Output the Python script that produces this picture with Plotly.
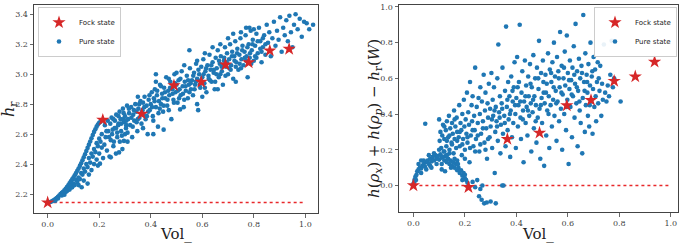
import plotly.graph_objects as go

# ---------------- data ----------------
fock_vol = [0.0, 0.214, 0.365, 0.49, 0.596, 0.69, 0.78, 0.862, 0.937]
fock_hr = [2.143, 2.695, 2.735, 2.925, 2.948, 3.063, 3.078, 3.157, 3.168]
fock_gap = [0.0, -0.01, 0.26, 0.295, 0.448, 0.478, 0.585, 0.61, 0.692]
baseline_hr = 2.143
baseline_gap = 0.0
baseline_vol = [0.0, 1.0]

x_ticks = [0.0, 0.2, 0.4, 0.6, 0.8, 1.0]
left_y_ticks = [2.2, 2.4, 2.6, 2.8, 3.0, 3.2, 3.4]
right_y_ticks = [0.0, 0.2, 0.4, 0.6, 0.8, 1.0]

# pure states, left panel (Vol_, h_r)
left_arm = [
    (0.005, 2.145), (0.01, 2.147), (0.015, 2.15), (0.02, 2.155), (0.025, 2.16), (0.03, 2.166),
    (0.035, 2.173), (0.04, 2.181), (0.045, 2.19), (0.05, 2.2), (0.055, 2.208), (0.06, 2.216),
    (0.065, 2.225), (0.07, 2.235), (0.075, 2.247), (0.08, 2.259), (0.085, 2.272), (0.09, 2.285),
    (0.095, 2.298), (0.1, 2.31), (0.105, 2.325), (0.11, 2.34), (0.115, 2.355), (0.12, 2.37),
    (0.125, 2.388), (0.13, 2.405), (0.135, 2.425), (0.14, 2.445), (0.145, 2.466), (0.15, 2.487),
    (0.155, 2.508), (0.16, 2.53), (0.165, 2.551), (0.17, 2.572), (0.175, 2.594), (0.18, 2.615),
    (0.185, 2.633), (0.19, 2.65), (0.195, 2.664), (0.2, 2.676), (0.205, 2.683),
    (0.03, 2.155), (0.04, 2.17), (0.055, 2.19), (0.06, 2.205), (0.065, 2.195), (0.07, 2.215),
    (0.075, 2.22), (0.08, 2.235), (0.085, 2.23), (0.09, 2.26), (0.095, 2.245), (0.1, 2.27),
    (0.105, 2.26), (0.11, 2.295), (0.115, 2.28), (0.12, 2.31), (0.125, 2.3), (0.13, 2.34),
    (0.135, 2.33), (0.14, 2.37), (0.145, 2.35), (0.15, 2.4), (0.155, 2.38), (0.16, 2.44),
    (0.165, 2.41), (0.17, 2.47), (0.175, 2.45), (0.18, 2.5), (0.185, 2.48), (0.19, 2.54),
    (0.195, 2.52), (0.2, 2.57), (0.205, 2.55), (0.21, 2.6),
    (0.12, 2.26), (0.132, 2.246), (0.14, 2.29), (0.155, 2.27), (0.16, 2.33), (0.17, 2.36),
    (0.18, 2.4), (0.19, 2.43), (0.195, 2.39), (0.2, 2.47), (0.203, 2.403), (0.21, 2.51),
    (0.215, 2.44), (0.22, 2.53), (0.225, 2.58), (0.23, 2.49), (0.235, 2.62), (0.24, 2.45),
    (0.245, 2.56), (0.25, 2.6), (0.255, 2.52), (0.26, 2.64), (0.265, 2.47), (0.27, 2.58),
    (0.275, 2.67), (0.28, 2.55), (0.285, 2.62), (0.29, 2.5), (0.295, 2.7), (0.3, 2.6),
    (0.305, 2.66), (0.31, 2.55), (0.277, 2.478), (0.245, 2.445), (0.296, 2.555),
]
left_band = [
    (0.222, 2.66), (0.228, 2.62), (0.233, 2.69), (0.238, 2.58), (0.243, 2.67), (0.248, 2.71),
    (0.252, 2.63), (0.257, 2.55), (0.261, 2.69), (0.266, 2.73), (0.27, 2.61), (0.274, 2.66),
    (0.279, 2.75), (0.283, 2.7), (0.288, 2.59), (0.292, 2.77), (0.296, 2.68), (0.3, 2.72),
    (0.304, 2.64), (0.308, 2.79), (0.312, 2.7), (0.316, 2.74), (0.32, 2.66), (0.324, 2.78),
    (0.328, 2.58), (0.332, 2.73), (0.336, 2.69), (0.34, 2.8), (0.344, 2.75), (0.348, 2.62),
    (0.352, 2.77), (0.356, 2.71), (0.36, 2.82), (0.364, 2.67), (0.368, 2.76), (0.372, 2.73),
    (0.376, 2.85), (0.38, 2.7), (0.384, 2.79), (0.388, 2.6), (0.392, 2.83), (0.396, 2.76),
    (0.4, 2.8), (0.404, 2.88), (0.408, 2.72), (0.412, 2.84), (0.416, 2.9), (0.42, 2.78),
    (0.424, 2.86), (0.428, 2.65), (0.432, 2.82), (0.436, 2.93), (0.44, 2.8), (0.444, 2.87),
    (0.448, 2.75), (0.452, 2.91), (0.456, 2.84), (0.46, 2.98), (0.464, 2.79), (0.468, 2.89),
    (0.472, 2.86), (0.476, 2.95), (0.48, 2.7), (0.484, 2.9), (0.488, 2.83), (0.492, 3.0),
    (0.496, 2.88), (0.5, 2.93), (0.504, 2.81), (0.508, 2.96), (0.512, 2.9), (0.516, 2.86),
    (0.52, 3.02), (0.524, 2.92), (0.528, 2.78), (0.532, 2.95), (0.536, 2.89), (0.54, 2.99),
    (0.544, 2.84), (0.548, 2.93), (0.552, 3.04), (0.556, 2.9),
    (0.56, 2.96), (0.564, 2.86), (0.568, 3.01), (0.572, 2.93), (0.576, 3.07), (0.58, 2.97),
    (0.584, 2.76), (0.588, 3.0), (0.592, 2.91), (0.596, 3.05), (0.6, 2.98), (0.604, 3.1),
    (0.608, 2.94), (0.612, 3.02), (0.616, 2.88), (0.62, 3.06), (0.624, 2.99), (0.628, 3.13),
    (0.632, 3.03), (0.636, 2.95), (0.64, 3.08), (0.644, 3.01), (0.648, 2.9), (0.652, 3.11),
    (0.656, 3.04), (0.66, 3.16), (0.664, 2.98), (0.668, 3.07), (0.672, 3.12), (0.676, 3.02),
    (0.68, 2.93), (0.684, 3.09), (0.688, 3.18), (0.692, 3.05), (0.696, 3.14), (0.7, 3.0),
    (0.704, 3.1), (0.708, 3.2), (0.712, 3.06), (0.716, 3.15), (0.72, 2.97), (0.724, 3.12),
    (0.728, 3.22), (0.732, 3.08), (0.736, 3.17), (0.74, 3.03), (0.744, 3.13), (0.748, 3.24),
    (0.752, 3.1), (0.756, 3.19), (0.76, 3.06), (0.764, 3.15), (0.768, 3.26), (0.772, 3.12),
    (0.776, 2.98), (0.78, 3.2), (0.784, 3.11), (0.788, 3.29), (0.792, 3.16), (0.796, 3.23),
    (0.8, 3.09), (0.805, 3.19), (0.81, 3.27), (0.815, 3.14), (0.82, 3.31), (0.825, 3.22),
    (0.83, 3.08), (0.835, 3.18), (0.84, 3.26), (0.845, 3.13), (0.85, 3.33),
    (0.855, 3.21), (0.86, 3.28), (0.866, 3.12), (0.872, 3.24), (0.878, 3.35), (0.884, 3.19),
    (0.89, 3.29), (0.896, 3.23), (0.902, 3.38), (0.908, 3.15), (0.914, 3.31), (0.92, 3.26),
    (0.926, 3.36), (0.932, 3.22), (0.938, 3.39), (0.944, 3.28), (0.95, 3.18), (0.956, 3.33),
    (0.962, 3.4), (0.97, 3.3), (0.978, 3.37), (0.986, 3.25), (0.995, 3.35), (1.005, 3.34),
    (1.015, 3.3), (1.03, 3.33),
]
left_fill = [
    (0.255, 2.7), (0.265, 2.64), (0.275, 2.72), (0.285, 2.67), (0.295, 2.74), (0.305, 2.69),
    (0.315, 2.77), (0.325, 2.71), (0.335, 2.76), (0.345, 2.68), (0.355, 2.8), (0.365, 2.74),
    (0.375, 2.78), (0.385, 2.72), (0.395, 2.86), (0.405, 2.78), (0.415, 2.82), (0.425, 2.89),
    (0.435, 2.77), (0.445, 2.84), (0.455, 2.88), (0.465, 2.83), (0.475, 2.91), (0.485, 2.87),
    (0.495, 2.94), (0.505, 2.89), (0.515, 2.97), (0.525, 2.87), (0.535, 2.92), (0.545, 2.96),
    (0.555, 2.94), (0.565, 2.99), (0.575, 2.95), (0.585, 3.03), (0.595, 2.96), (0.605, 3.0),
    (0.615, 3.04), (0.625, 2.97), (0.635, 3.06), (0.645, 3.03), (0.655, 3.0), (0.665, 3.09),
    (0.675, 3.05), (0.685, 3.11), (0.695, 3.08), (0.705, 3.04), (0.715, 3.12), (0.725, 3.09),
    (0.735, 3.14), (0.745, 3.07), (0.755, 3.16), (0.765, 3.11), (0.775, 3.18), (0.785, 3.14),
    (0.795, 3.2), (0.805, 3.12), (0.815, 3.22), (0.825, 3.17), (0.835, 3.24), (0.845, 3.2),
    (0.31, 2.61), (0.33, 2.65), (0.35, 2.7), (0.37, 2.64), (0.39, 2.75), (0.41, 2.69),
    (0.43, 2.74), (0.45, 2.79), (0.47, 2.76), (0.49, 2.81), (0.51, 2.84), (0.53, 2.83),
    (0.55, 2.88), (0.57, 2.9), (0.59, 2.93), (0.61, 2.91), (0.63, 2.96), (0.65, 2.95),
    (0.67, 3.0), (0.69, 2.99), (0.71, 3.03), (0.73, 3.05), (0.75, 3.04), (0.77, 3.09),
    (0.79, 3.07), (0.81, 3.11), (0.83, 3.15), (0.35, 2.85), (0.37, 2.81), (0.42, 2.95),
    (0.44, 2.92), (0.47, 2.97), (0.5, 3.01), (0.53, 3.06), (0.55, 3.16), (0.58, 3.09),
    (0.61, 3.14), (0.64, 3.18), (0.67, 3.2), (0.7, 3.24), (0.72, 3.27), (0.75, 3.28),
    (0.77, 3.31), (0.783, 3.31), (0.8, 3.3), (0.42, 3.0), (0.514, 2.765), (0.45, 2.63),
    (0.41, 2.6), (0.58, 2.8), (0.6, 2.85), (0.66, 2.9), (0.73, 2.95),
]

# pure states, right panel (Vol_, h(rho_x)+h(rho_p)-h_r(W))
right_arm = [
    (0.0, 0.01), (0.003, 0.02), (0.005, 0.035), (0.008, 0.05), (0.01, 0.03), (0.012, 0.06),
    (0.015, 0.08), (0.02, 0.09), (0.025, 0.1), (0.03, 0.095), (0.035, 0.11), (0.04, 0.12),
    (0.045, 0.105), (0.05, 0.13), (0.055, 0.14), (0.06, 0.12), (0.065, 0.15), (0.07, 0.135),
    (0.075, 0.16), (0.08, 0.14), (0.085, 0.17), (0.09, 0.15), (0.095, 0.165), (0.1, 0.145),
    (0.105, 0.175), (0.11, 0.155), (0.115, 0.16), (0.12, 0.14), (0.125, 0.165), (0.13, 0.13),
    (0.135, 0.15), (0.14, 0.12), (0.145, 0.14), (0.15, 0.11), (0.155, 0.13), (0.16, 0.1),
    (0.165, 0.12), (0.17, 0.085), (0.175, 0.1), (0.18, 0.07), (0.185, 0.085), (0.19, 0.055),
    (0.195, 0.07), (0.2, 0.04), (0.205, 0.03), (0.21, 0.015), (0.2, 0.06), (0.19, 0.03),
    (0.03, 0.07), (0.05, 0.09), (0.07, 0.1), (0.09, 0.12), (0.11, 0.09), (0.13, 0.17),
    (0.06, 0.17), (0.08, 0.18), (0.1, 0.2), (0.12, 0.19), (0.14, 0.18), (0.16, 0.15),
    (0.17, 0.14), (0.04, 0.14), (0.046, 0.346), (0.02, 0.12), (0.03, 0.14), (0.065, 0.11),
]
right_cloud = [
    (0.1, 0.37), (0.102, 0.25), (0.105, 0.3), (0.108, 0.21), (0.11, 0.12), (0.112, 0.28),
    (0.115, 0.34), (0.118, 0.19), (0.12, 0.26), (0.123, 0.08), (0.126, 0.31), (0.128, 0.22),
    (0.13, 0.36), (0.133, 0.15), (0.135, 0.27), (0.138, 0.39), (0.14, 0.2), (0.143, 0.32),
    (0.146, 0.1), (0.148, 0.24), (0.15, 0.35), (0.153, 0.29), (0.156, 0.18), (0.158, 0.42),
    (0.16, 0.26), (0.163, 0.33), (0.166, 0.21), (0.168, 0.38), (0.17, 0.3), (0.173, 0.12),
    (0.176, 0.27), (0.178, 0.45), (0.18, 0.22), (0.183, 0.35), (0.186, 0.31), (0.188, 0.17),
    (0.19, 0.4), (0.193, 0.26), (0.196, 0.48), (0.198, 0.33), (0.2, 0.2), (0.203, 0.37),
    (0.206, 0.29), (0.208, 0.52), (0.21, 0.24), (0.213, 0.41), (0.216, 0.34), (0.218, 0.13),
    (0.22, 0.58), (0.223, 0.28), (0.226, 0.45), (0.228, 0.36), (0.23, 0.5), (0.233, 0.22),
    (0.236, 0.39), (0.238, 0.31), (0.24, 0.66), (0.243, 0.26), (0.246, 0.44), (0.248, 0.03),
    (0.25, 0.35), (0.253, 0.49), (0.256, 0.19), (0.258, 0.4), (0.26, 0.55), (0.263, 0.29),
    (0.266, 0.47), (0.268, 0.0), (0.27, 0.36), (0.273, 0.62), (0.276, 0.24), (0.278, 0.42),
    (0.28, 0.52), (0.283, 0.32), (0.286, 0.15), (0.288, 0.46), (0.29, 0.38), (0.293, 0.57),
    (0.296, 0.27), (0.298, 0.43), (0.3, 0.33), (0.303, 0.63), (0.306, 0.21), (0.308, 0.48),
    (0.31, 0.39), (0.313, 0.55), (0.316, 0.07), (0.318, 0.3), (0.32, 0.44), (0.323, 0.36),
    (0.326, 0.6), (0.328, 0.25), (0.33, 0.79), (0.333, 0.41), (0.336, 0.5), (0.338, 0.18),
    (0.34, 0.34), (0.343, 0.46), (0.346, 0.66), (0.348, 0.29), (0.35, 0.0), (0.353, 0.39),
    (0.356, 0.53), (0.358, 0.22), (0.36, 0.89), (0.363, 0.44), (0.366, 0.31), (0.368, 0.58),
    (0.37, 0.37), (0.373, 0.5), (0.376, 0.16), (0.378, 0.42), (0.38, 0.61), (0.383, 0.27),
    (0.386, 0.47), (0.388, 0.35), (0.39, 0.55), (0.393, 0.69), (0.396, 0.4), (0.398, 0.21),
    (0.4, 0.49), (0.403, 0.72), (0.406, 0.33), (0.408, 0.45), (0.41, 0.58), (0.413, 0.9),
    (0.416, 0.38), (0.418, 0.26), (0.42, 0.52), (0.423, 0.64), (0.426, 0.42), (0.428, 0.13),
    (0.43, 0.47), (0.433, 0.7), (0.436, 0.35), (0.438, 0.56), (0.44, 0.44), (0.443, 0.28),
    (0.446, 0.61), (0.448, 0.5), (0.45, 0.39), (0.453, 0.68), (0.456, 0.46), (0.458, 0.19),
    (0.46, 0.55), (0.463, 0.41), (0.466, 0.73), (0.468, 0.32), (0.47, 0.5), (0.473, 0.6),
    (0.476, 0.45), (0.478, 0.24), (0.48, 0.66), (0.483, 0.38), (0.486, 0.54), (0.488, 0.81),
    (0.49, 0.43), (0.493, 0.15), (0.496, 0.63), (0.498, 0.49), (0.5, 0.35), (0.503, 0.7),
    (0.506, 0.52), (0.508, 0.11), (0.51, 0.46), (0.513, 0.62), (0.516, 0.28), (0.518, 0.57),
    (0.52, 0.42), (0.523, 0.74), (0.526, 0.5), (0.528, 0.21), (0.53, 0.65), (0.533, 0.45),
    (0.536, 0.58), (0.538, 0.33), (0.54, 0.69), (0.543, 0.48), (0.546, 0.8), (0.548, 0.39),
    (0.55, 0.61), (0.553, 0.53), (0.556, 0.25), (0.558, 0.72), (0.56, 0.47), (0.563, 0.64),
    (0.566, 0.36), (0.568, 0.55), (0.57, 0.86), (0.573, 0.43), (0.576, 0.67), (0.578, 0.2),
    (0.58, 0.51), (0.583, 0.6), (0.586, 0.4), (0.588, 0.75), (0.59, 0.56), (0.593, 0.31),
    (0.596, 0.84), (0.598, 0.48), (0.6, 0.63), (0.603, 0.12), (0.606, 0.54), (0.608, 0.7),
    (0.61, 0.44), (0.613, 0.59), (0.616, 0.27), (0.618, 0.66), (0.62, 0.5), (0.623, 0.78),
    (0.626, 0.38), (0.628, 0.57), (0.63, 0.905), (0.633, 0.46), (0.636, 0.64), (0.638, 0.22),
    (0.64, 0.53), (0.643, 0.71), (0.646, 0.42), (0.648, 0.6), (0.65, 0.35), (0.653, 0.67),
    (0.656, 0.18), (0.658, 0.49), (0.66, 0.955), (0.663, 0.58), (0.666, 0.3), (0.668, 0.74),
    (0.67, 0.45), (0.673, 0.62), (0.676, 0.52), (0.678, 0.39), (0.68, 0.68), (0.683, 0.33),
    (0.686, 0.56), (0.688, 0.8), (0.69, 0.47), (0.693, 0.61), (0.696, 0.29), (0.698, 0.54),
    (0.7, 0.72), (0.703, 0.44), (0.706, 0.65), (0.708, 0.5), (0.71, 0.36), (0.713, 0.58),
    (0.716, 0.69), (0.718, 0.46), (0.72, 0.6), (0.723, 0.53), (0.726, 0.67), (0.73, 0.39),
    (0.733, 0.57), (0.736, 0.48), (0.74, 0.79), (0.745, 0.52), (0.75, 0.47), (0.755, 0.56),
    (0.76, 0.5), (0.765, 0.62), (0.77, 0.81), (0.775, 0.55), (0.78, 0.6), (0.805, 0.47),
    (0.265, -0.08), (0.275, -0.1), (0.285, -0.095), (0.32, -0.1), (0.255, -0.06), (0.3, -0.09),
    (0.345, 0.0), (0.23, 0.02), (0.24, -0.01), (0.26, -0.02),
    (0.305, 0.37), (0.315, 0.42), (0.325, 0.33), (0.335, 0.38), (0.345, 0.43), (0.355, 0.35),
    (0.365, 0.48), (0.375, 0.4), (0.385, 0.53), (0.395, 0.45), (0.405, 0.55), (0.415, 0.47),
    (0.425, 0.37), (0.435, 0.5), (0.445, 0.42), (0.455, 0.57), (0.465, 0.48), (0.475, 0.36),
    (0.485, 0.6), (0.495, 0.45), (0.505, 0.58), (0.515, 0.52), (0.525, 0.4), (0.535, 0.63),
    (0.545, 0.55), (0.555, 0.46), (0.565, 0.6), (0.575, 0.52), (0.585, 0.66), (0.595, 0.44),
    (0.605, 0.59), (0.615, 0.51), (0.625, 0.62), (0.635, 0.55), (0.645, 0.47), (0.655, 0.63),
    (0.665, 0.53), (0.675, 0.58), (0.685, 0.45), (0.695, 0.64), (0.2, 0.15), (0.21, 0.27),
    (0.22, 0.21), (0.23, 0.31), (0.24, 0.19), (0.25, 0.28), (0.26, 0.23), (0.27, 0.32),
    (0.28, 0.2), (0.29, 0.26), (0.12, 0.33), (0.14, 0.28), (0.16, 0.37), (0.18, 0.3),
    (0.19, 0.23), (0.17, 0.25), (0.15, 0.23), (0.13, 0.25),
]

left_pts = left_arm + left_band + left_fill
right_pts = right_arm + right_cloud

# ---------------- styling ----------------
BLUE = "#1f77b4"
RED = "#e8282b"
AXC = "#444444"
SERIF = "DejaVu Serif"
W, H = 685, 243


def px_domain(a, b, total):
    return [a / total, b / total]


fig = go.Figure()

# left panel
fig.add_trace(go.Scatter(
    x=baseline_vol, y=[baseline_hr, baseline_hr], mode="lines",
    line=dict(color=RED, width=1.5, dash="dot"), showlegend=False, hoverinfo="skip",
    xaxis="x", yaxis="y"))
fig.add_trace(go.Scatter(
    x=[p[0] for p in left_pts], y=[p[1] for p in left_pts], mode="markers",
    marker=dict(color=BLUE, size=4.6, line=dict(width=0)), name="Pure state",
    legend="legend", legendrank=2, xaxis="x", yaxis="y"))
fig.add_trace(go.Scatter(
    x=fock_vol, y=fock_hr, mode="markers",
    marker=dict(color="#d62728", size=10, symbol="star", line=dict(width=0)), name="Fock state",
    legend="legend", legendrank=1, xaxis="x", yaxis="y"))

# right panel
fig.add_trace(go.Scatter(
    x=baseline_vol, y=[baseline_gap, baseline_gap], mode="lines",
    line=dict(color=RED, width=1.5, dash="dot"), showlegend=False, hoverinfo="skip",
    xaxis="x2", yaxis="y2"))
fig.add_trace(go.Scatter(
    x=[p[0] for p in right_pts], y=[p[1] for p in right_pts], mode="markers",
    marker=dict(color=BLUE, size=4.6, line=dict(width=0)), name="Pure state",
    legend="legend2", legendrank=2, xaxis="x2", yaxis="y2"))
fig.add_trace(go.Scatter(
    x=fock_vol, y=fock_gap, mode="markers",
    marker=dict(color="#d62728", size=10, symbol="star", line=dict(width=0)), name="Fock state",
    legend="legend2", legendrank=1, xaxis="x2", yaxis="y2"))

axis_common = dict(
    showgrid=False, zeroline=False, showline=True, linecolor=AXC, linewidth=1, mirror=True,
    ticks="outside", ticklen=3.5, tickwidth=0.8, tickcolor=AXC,
    tickfont=dict(family=SERIF, size=8, color="#444"), tickformat=".1f",
)

legend_common = dict(
    font=dict(family="DejaVu Sans", size=7, color="#222"),
    bgcolor="rgba(255,255,255,0.9)", bordercolor="#cccccc", borderwidth=1,
    tracegroupgap=0, traceorder="normal", itemwidth=30,
)

fig.update_layout(
    width=W, height=H,
    margin=dict(l=0, r=0, t=0, b=0),
    paper_bgcolor="white", plot_bgcolor="white",
    xaxis=dict(domain=px_domain(34, 318, W), range=[-0.053, 1.049], tickvals=x_ticks,
               anchor="y", **axis_common),
    yaxis=dict(domain=[1 - 213 / H, 1 - 3 / H], range=[2.072, 3.462], tickvals=left_y_ticks,
               anchor="x", **axis_common),
    xaxis2=dict(domain=px_domain(399, 678, W), range=[-0.056, 1.028], tickvals=x_ticks,
                anchor="y2", **axis_common),
    yaxis2=dict(domain=[1 - 212 / H, 1 - 3 / H], range=[-0.15, 1.011], tickvals=right_y_ticks,
                anchor="x2", **axis_common),
    legend=dict(x=38 / W, y=1 - 5 / H, xanchor="left", yanchor="top", **legend_common),
    legend2=dict(x=677 / W, y=1 - 5 / H, xanchor="right", yanchor="top", **legend_common),
    showlegend=True,
    annotations=[
        dict(text="Vol_", x=176 / W, y=1 - 234 / H, xref="paper", yref="paper",
             showarrow=False, font=dict(family=SERIF, size=15, color="#222"),
             xanchor="center", yanchor="middle"),
        dict(text="Vol_", x=538 / W, y=1 - 234 / H, xref="paper", yref="paper",
             showarrow=False, font=dict(family=SERIF, size=15, color="#222"),
             xanchor="center", yanchor="middle"),
        dict(text="<i>h</i><sub>r</sub>", x=9 / W, y=1 - 108 / H, xref="paper", yref="paper",
             showarrow=False, textangle=-90, font=dict(family=SERIF, size=16, color="#222"),
             xanchor="center", yanchor="middle"),
        dict(text="<i>h</i>(<i>ρ<sub>x</sub></i>) + <i>h</i>(<i>ρ<sub>p</sub></i>) − <i>h</i><sub>r</sub>(<i>W</i>)",
             x=374 / W, y=1 - 117 / H, xref="paper", yref="paper",
             showarrow=False, textangle=-90, font=dict(family=SERIF, size=15, color="#222"),
             xanchor="center", yanchor="middle"),
    ],
)

fig.write_html(
    "out.html",
    config={"displayModeBar": False, "staticPlot": True},
    post_script="document.body.style.margin='0';document.body.style.padding='0';",
)
